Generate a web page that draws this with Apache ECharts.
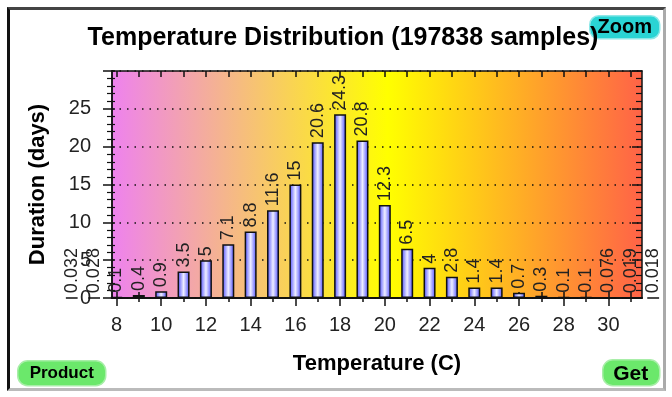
<!DOCTYPE html>
<html>
<head>
<meta charset="utf-8">
<script src="https://cdn.jsdelivr.net/npm/echarts@6/dist/echarts.min.js"></script>
<style>
  html, body { margin: 0; padding: 0; background: #fff; }
  /* 外框 */
  #frame {
    position: absolute; left: 7px; top: 7px; width: 653px; height: 378px;
    border-left: 3px solid #111; border-top: 3px solid #444;
    border-right: 3px solid #aaa; border-bottom: 3px solid #bbb;
  }
  #chart { position: absolute; left: 0; top: 0; width: 672px; height: 397px; }
</style>
</head>
<body>
<div id="frame"></div>
<div id="chart"></div>
<script>
// 温度类别（摄氏度）
const temps = [6, 7, 8, 9, 10, 11, 12, 13, 14, 15, 16, 17, 18, 19, 20, 21, 22, 23, 24, 25, 26, 27, 28, 29, 30, 31, 32];
// 每个温度的持续时间（天）
const durations = [0.032, 0.028, 0.1, 0.4, 0.9, 3.5, 5, 7.1, 8.8, 11.6, 15, 20.6, 24.3, 20.8, 12.3, 6.5, 4, 2.8, 1.4, 1.4, 0.7, 0.3, 0.1, 0.1, 0.076, 0.019, 0.018];
// X 轴刻度标签
const xLabels = [8, 10, 12, 14, 16, 18, 20, 22, 24, 26, 28, 30];
const xOddTicks = [9, 11, 13, 15, 17, 19, 21, 23, 25, 27, 29, 31];
const xAllTicks = [8, 9, 10, 11, 12, 13, 14, 15, 16, 17, 18, 19, 20, 21, 22, 23, 24, 25, 26, 27, 28, 29, 30, 31];

const xMin = 7.8, xMax = 31.5;
const font = 'Arial, "Liberation Sans", sans-serif';

const chart = echarts.init(document.getElementById('chart'));

const black = { color: '#111', width: 1.5 };

// 生成一个只画刻度的 X 轴
function tickX(position, values, len, inside) {
  return {
    type: 'value', position: position, min: xMin, max: xMax,
    axisLine: { show: true, lineStyle: black },
    axisLabel: { show: false },
    axisTick: { show: true, inside: inside, length: len, customValues: values, lineStyle: black },
    splitLine: { show: false }
  };
}

// 生成一个只画刻度的 Y 轴
function tickY(position, len, minorLen, inside) {
  return {
    type: 'value', position: position, min: 0, max: 30, interval: 5,
    axisLine: { show: true, lineStyle: black },
    axisLabel: { show: false },
    axisTick: { show: true, inside: inside, length: len, lineStyle: black },
    minorTick: { show: true, splitNumber: 5, length: minorLen, lineStyle: { color: '#111', width: 1.2 } },
    splitLine: { show: false }
  };
}

const option = {
  animation: false,
  textStyle: { fontFamily: font },
  title: {
    text: 'Temperature Distribution (197838 samples)',
    left: 338, top: 21, textAlign: 'center',
    textStyle: { fontSize: 25, fontWeight: 'bold', color: '#000', fontFamily: font,
      textShadowColor: 'rgba(120,60,0,0.25)', textShadowOffsetX: 1, textShadowOffsetY: 0, textShadowBlur: 0 }
  },
  grid: {
    left: 112, right: 30, top: 71, bottom: 99,
    show: true, borderWidth: 0,
    backgroundColor: new echarts.graphic.LinearGradient(0, 0, 1, 0, [
      { offset: 0, color: '#ee82ee' },
      { offset: 0.52, color: '#ffff00' },
      { offset: 1, color: '#ff6347' }
    ])
  },
  xAxis: [
    {
      type: 'value', position: 'bottom', min: xMin, max: xMax,
      name: 'Temperature (C)', nameLocation: 'middle', nameGap: 55,
      nameTextStyle: { fontSize: 22, fontWeight: 'bold', color: '#000' },
      axisLine: { show: true, lineStyle: black },
      axisLabel: { customValues: xLabels, fontSize: 20, margin: 17, color: '#222' },
      axisTick: { show: true, length: 8, customValues: xLabels, lineStyle: black },
      splitLine: { show: false }
    },
    tickX('bottom', xOddTicks, 4, false),
    tickX('bottom', xAllTicks, 6, true),
    tickX('top', xAllTicks, 6, true)
  ],
  yAxis: [
    {
      type: 'value', position: 'left', min: 0, max: 30, interval: 5,
      name: 'Duration (days)', nameLocation: 'middle', nameGap: 63,
      nameTextStyle: { fontSize: 22, fontWeight: 'bold', color: '#000' },
      axisLine: { show: true, lineStyle: black },
      axisLabel: { fontSize: 20, margin: 21, color: '#222', showMaxLabel: false },
      axisTick: { show: true, length: 9, lineStyle: black },
      minorTick: { show: true, splitNumber: 5, length: 5, lineStyle: { color: '#111', width: 1.2 } },
      splitLine: { show: true, lineStyle: { color: '#111', type: [1.5, 6], width: 1.5 } }
    },
    tickY('left', 3, 3, true),
    tickY('right', 10, 6, true)
  ],
  series: [{
    type: 'bar',
    xAxisIndex: 0, yAxisIndex: 0,
    clip: false,
    barWidth: 12,
    data: temps.map((t, i) => [t, durations[i]]),
    itemStyle: {
      color: new echarts.graphic.LinearGradient(0, 0, 1, 0, [
        { offset: 0, color: '#4848ff' },
        { offset: 0.5, color: '#eeeeff' },
        { offset: 1, color: '#4848ff' }
      ]),
      borderColor: '#111', borderWidth: 1.5
    },
    label: {
      show: true, position: 'top', rotate: 90, distance: 4,
      align: 'left', verticalAlign: 'middle',
      fontSize: 18, color: '#222',
      formatter: p => String(p.value[1])
    }
  }],
  graphic: [
    {
      type: 'group', left: 589, top: 15, z: 100,
      children: [
        { type: 'rect', shape: { x: 0, y: 0, width: 70, height: 23, r: 9 },
          style: { fill: '#2ad4d4', stroke: '#8ee8e8', lineWidth: 1.5 } },
        { type: 'text', x: 35, y: 12,
          style: { text: 'Zoom', font: 'bold 20px ' + font, fill: '#000', align: 'center', verticalAlign: 'middle' } }
      ]
    },
    {
      type: 'group', left: 17, top: 360, z: 100,
      children: [
        { type: 'rect', shape: { x: 0, y: 0, width: 88, height: 25, r: 10 },
          style: { fill: '#6be86b', stroke: '#a8eea8', lineWidth: 1.5 } },
        { type: 'text', x: 44, y: 13,
          style: { text: 'Product', font: 'bold 17px ' + font, fill: '#000', align: 'center', verticalAlign: 'middle' } }
      ]
    },
    {
      type: 'group', left: 602, top: 359, z: 100,
      children: [
        { type: 'rect', shape: { x: 0, y: 0, width: 57, height: 26, r: 10 },
          style: { fill: '#6be86b', stroke: '#a8eea8', lineWidth: 1.5 } },
        { type: 'text', x: 28, y: 14,
          style: { text: 'Get', font: 'bold 21px ' + font, fill: '#000', align: 'center', verticalAlign: 'middle' } }
      ]
    }
  ]
};

chart.setOption(option);
</script>
</body>
</html>
